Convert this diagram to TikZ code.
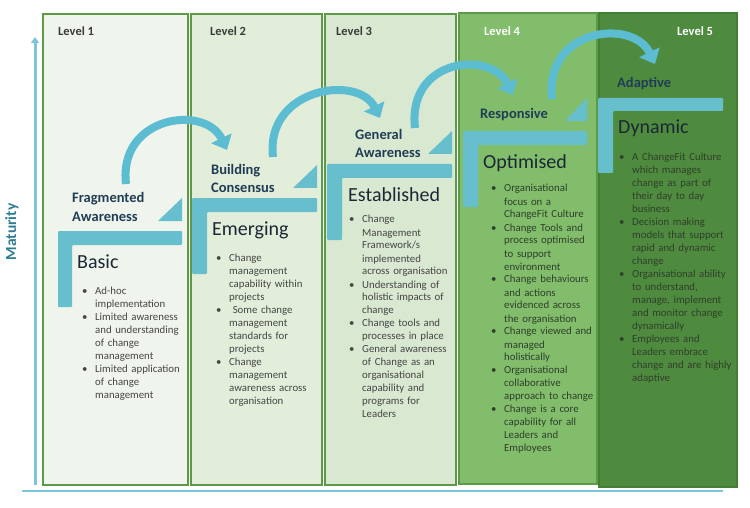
\documentclass[tikz,border=0pt]{standalone}
\usepackage{fontspec}
\setmainfont{Carlito}
\usetikzlibrary{arrows.meta,positioning}

\definecolor{colA}{HTML}{EFF5EC}
\definecolor{colB}{HTML}{E2EEDA}
\definecolor{colC}{HTML}{D9E8D1}
\definecolor{colD}{HTML}{82BD6B}
\definecolor{colE}{HTML}{4F8B3E}
\definecolor{rim}{HTML}{5C9A48}
\definecolor{rimdark}{HTML}{437F33}
\definecolor{barblue}{HTML}{67BFCE}
\definecolor{swooshblue}{HTML}{5CBCD1}
\definecolor{axisblue}{HTML}{7CC6D7}
\definecolor{maturityteal}{HTML}{2E7D93}
\definecolor{levelgrey}{HTML}{3A3A3A}
\definecolor{titlenavy}{HTML}{213D56}
\definecolor{stagenavy}{HTML}{1B2735}
\definecolor{bodygrey}{HTML}{454545}
\definecolor{bodydark}{HTML}{2F3F2C}

\newcommand{\bpt}[1]{\par\hangindent=13pt\hangafter=1\noindent\makebox[13pt][l]{\textbullet}#1\par}

\begin{document}
\begin{tikzpicture}[
		x=1pt, y=-1pt,
		colbox/.style={draw=rim, line width=1.3pt},
		bar/.style={fill=barblue, draw=none, rounded corners=1pt},
		lvl/.style={font=\bfseries\fontsize{12.5}{14}\selectfont, text=levelgrey, inner sep=0pt, anchor=base west},
		ttl/.style={font=\bfseries\fontsize{14.5}{18}\selectfont, text=titlenavy, inner sep=0pt, align=left, anchor=base west},
		stg/.style={font=\fontsize{20}{22}\selectfont, text=stagenavy, inner sep=0pt, anchor=base west},
		lst/.style={font=\fontsize{10.8}{13}\selectfont, text=bodygrey, inner sep=0pt, text width=122pt, align=left, anchor=base west},
		swoosh/.style={draw=swooshblue, line width=8pt, -{Triangle[length=13pt,width=22pt]}},
	]
		\useasboundingbox (0,0) rectangle (750,508);

		% columns
		\filldraw[colbox, fill=colA] (43,14) rectangle (188,485);
		\filldraw[colbox, fill=colB] (191,14) rectangle (322,485);
		\filldraw[colbox, fill=colC] (325,14) rectangle (456,485);
		\filldraw[colbox, fill=colD] (459,13) rectangle (597,484);
		\filldraw[colbox, draw=rimdark, fill=colE] (599,13) rectangle (737,487);

		% axes
		\coordinate (axbot) at (35,485);
		\coordinate (axtop) at (35,37);
		\coordinate (axleft) at (22,491);
		\coordinate (axright) at (723,491);
		\draw[axisblue, line width=3pt, -{Triangle[length=6pt,width=8pt]}] (axbot) -- (axtop);
		\draw[axisblue, line width=1.5pt] (axleft) -- (axright);
		\node[font=\bfseries\fontsize{15.5}{18}\selectfont, text=maturityteal, rotate=90] (maturity) at (12,232) {Maturity};

		% steps
		\fill[bar] (58,231) -- (182,231) -- (182,245) -- (72,245) -- (72,307) -- (58,307) -- cycle;
		\fill[bar] (192,198) -- (317,198) -- (317,212) -- (207,212) -- (207,274) -- (192,274) -- cycle;
		\fill[bar] (327,164) -- (452,164) -- (452,178) -- (342,178) -- (342,240) -- (327,240) -- cycle;
		\fill[bar] (463,131) -- (587,131) -- (587,145) -- (478,145) -- (478,207) -- (463,207) -- cycle;
		\fill[bar] (598,98) -- (723,98) -- (723,111) -- (613,111) -- (613,173) -- (598,173) -- cycle;
		\fill[barblue] (158,221) -- (182,221) -- (182,198) -- cycle;
		\fill[barblue] (293,188) -- (317,188) -- (317,165) -- cycle;
		\fill[barblue] (428,154) -- (452,154) -- (452,131) -- cycle;
		\fill[barblue] (565,121) -- (587,121) -- (587,98) -- cycle;

		% level 1
		\node[lvl] (lvl1) at (58,36) {Level 1};
		\node[ttl] (ttl1) at (72,221) {Fragmented\\Awareness};
		\node[stg] (stg1) at (77,268) {Basic};
		\node[lst] (lst1) at (82,281) {%
			\bpt{Ad-hoc\newline implementation}%
			\bpt{Limited awareness\newline and understanding\newline of change\newline management}%
			\bpt{Limited application\newline of change\newline management}};

		% level 2
		\node[lvl] (lvl2) at (210,36) {Level 2};
		\node[ttl] (ttl2) at (211,193) {Building\\Consensus};
		\node[stg] (stg2) at (212,235) {Emerging};
		\node[lst] (lst2) at (216,248) {%
			\bpt{Change\newline management\newline capability within\newline projects}%
			\bpt{\ Some change\newline management\newline standards for\newline projects}%
			\bpt{Change\newline management\newline awareness across\newline organisation}};

		% level 3
		\node[lvl] (lvl3) at (336,36) {Level 3};
		\node[ttl] (ttl3) at (355,158) {General\\Awareness};
		\node[stg] (stg3) at (348,201) {Established};
		\node[lst] (lst3) at (349,210) {%
			\bpt{Change\newline Management\newline Framework/s\newline implemented\newline across organisation}%
			\bpt{Understanding of\newline holistic impacts of\newline change}%
			\bpt{Change tools and\newline processes in place}%
			\bpt{General awareness\newline of Change as an\newline organisational\newline capability and\newline programs for\newline Leaders}};

		% level 4
		\node[lvl, text=white] (lvl4) at (484,36) {Level 4};
		\node[ttl] (ttl4) at (480,119) {Responsive};
		\node[stg] (stg4) at (483,168) {Optimised};
		\node[lst, text=bodydark] (lst4) at (491,179) {%
			\bpt{Organisational\newline focus on a\newline ChangeFit Culture}%
			\bpt{Change Tools and\newline process optimised\newline to support\newline environment}%
			\bpt{Change behaviours\newline and actions\newline evidenced across\newline the organisation}%
			\bpt{Change viewed and\newline managed\newline holistically}%
			\bpt{Organisational\newline collaborative\newline approach to change}%
			\bpt{Change is a core\newline capability for all\newline Leaders and\newline Employees}};

		% level 5
		\node[lvl, text=white] (lvl5) at (677,36) {Level 5};
		\node[ttl] (ttl5) at (617,88) {Adaptive};
		\node[stg] (stg5) at (618,134) {Dynamic};
		\node[lst, text=bodydark] (lst5) at (619,148) {%
			\bpt{A ChangeFit Culture\newline which manages\newline change as part of\newline their day to day\newline business}%
			\bpt{Decision making\newline models that support\newline rapid and dynamic\newline change}%
			\bpt{Organisational ability\newline to understand,\newline manage, implement\newline and monitor change\newline dynamically}%
			\bpt{Employees and\newline Leaders embrace\newline change and are highly\newline adaptive}};

		% swooshes
		\coordinate (sw1a) at (126,184);
		\coordinate (sw1b) at (227,150);
		\coordinate (sw2a) at (273,157);
		\coordinate (sw2b) at (380,118);
		\coordinate (sw3a) at (415,128);
		\coordinate (sw3b) at (513,95);
		\coordinate (sw4a) at (552,99);
		\coordinate (sw4b) at (655,64);
		\draw[swoosh] (sw1a) .. controls (118,116) and (205,104) .. (sw1b);
		\draw[swoosh] (sw2a) .. controls (265,88) and (358,74) .. (sw2b);
		\draw[swoosh] (sw3a) .. controls (407,58) and (491,50) .. (sw3b);
		\draw[swoosh] (sw4a) .. controls (544,28) and (633,18) .. (sw4b);
	\end{tikzpicture}
\end{document}
